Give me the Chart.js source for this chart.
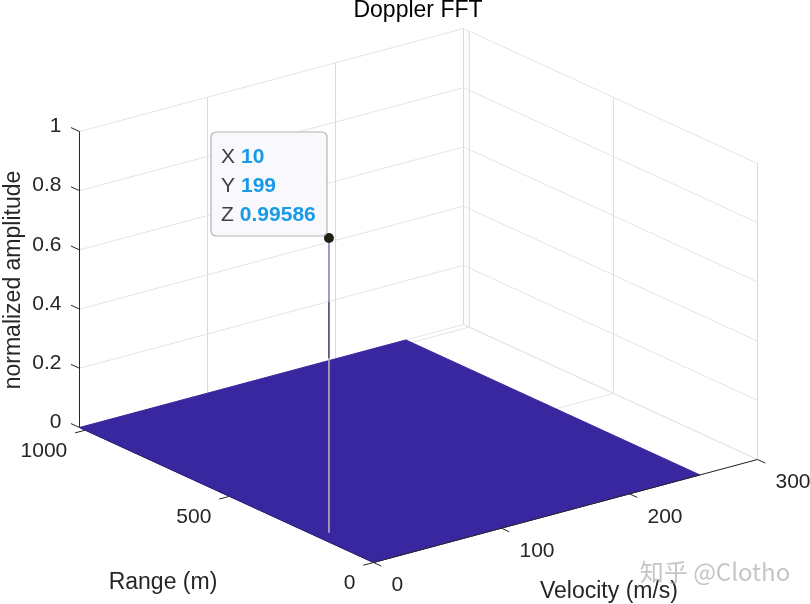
<!DOCTYPE html>
<html>
<head>
<meta charset="utf-8">
<title>Doppler FFT</title>
<script src="https://cdn.jsdelivr.net/npm/chart.js@4/dist/chart.umd.min.js"></script>
<style>
    html, body { margin: 0; padding: 0; background: #fff; }
    canvas { display: block; }
</style>
</head>
<body>
<canvas id="dopplerChart" width="810" height="604"></canvas>
<script>
// values
const velocityTicks = [0, 100, 200, 300];
const rangeTicks = [0, 500, 1000];
const ampTicks = [0, 0.2, 0.4, 0.6, 0.8, 1];
const velocityLimit = 300;
const rangeLimit = 1020;
const surfaceVelocity = 255;
const surfaceRange = 1020;

// the peak and the data tip
const peakVelocity = 10;
const peakRange = 199;
const peakAmp = 0.99586;
const spikeLevels = [0.99586, 0.78, 0.59, 0];
const spikeColors = ["#8a82bc", "#45446e", "#b4afbc"];
const tipNames = ["X", "Y", "Z"];
const tipValues = ["10", "199", "0.99586"];

const FONT = '"Liberation Sans", Arial, sans-serif';
const TEXT_COLOR = "#262626";
const GRID_COLOR = "#e4e4e4";
const GRID_COLOR_V = "#dadada";

// orthographic view of the box: velocity, range, amplitude -> page position
function project(v, r, z) {
    return {
        x: 373.5 + (v / velocityLimit) * 384 - (r / rangeLimit) * 294,
        y: 562.5 - (v / velocityLimit) * 103 - (r / rangeLimit) * 135 - z * 296
    };
}

const datasets = [];

function addLine(points, color, width, order) {
    datasets.push({
        data: points.map(p => project(p[0], p[1], p[2])),
        showLine: true,
        borderColor: color,
        borderWidth: width,
        pointRadius: 0,
        fill: false,
        order: order
    });
}

// wall and floor grid
ampTicks.forEach(z => {
    addLine([[0, rangeLimit, z], [velocityLimit, rangeLimit, z], [velocityLimit, 0, z]], GRID_COLOR, 1, 6);
});
velocityTicks.forEach(v => {
    addLine([[v, rangeLimit, 0], [v, rangeLimit, 1]], GRID_COLOR_V, 1, 6);
    addLine([[v, 0, 0], [v, rangeLimit, 0]], GRID_COLOR, 1, 6);
});
rangeTicks.forEach(r => {
    addLine([[velocityLimit, r, 0], [velocityLimit, r, 1]], GRID_COLOR_V, 1, 6);
    addLine([[0, r, 0], [velocityLimit, r, 0]], GRID_COLOR, 1, 6);
});

// floor of the surface
datasets.push({
    data: [[0, 0], [surfaceVelocity, 0], [surfaceVelocity, surfaceRange], [0, surfaceRange], [0, 0]]
        .map(p => project(p[0], p[1], 0)),
    showLine: true,
    borderColor: "#38279f",
    borderWidth: 1,
    backgroundColor: "#38279f",
    pointRadius: 0,
    fill: "shape",
    order: 5
});

// axes
addLine([[0, rangeLimit, 0], [0, rangeLimit, 1]], TEXT_COLOR, 1, 4);
addLine([[0, 0, 0], [velocityLimit, 0, 0]], TEXT_COLOR, 1, 4);
addLine([[0, 0, 0], [0, rangeLimit, 0]], "#2a2370", 1, 4);

// tick marks, drawn in data units so they follow the box
const tickV = 8;
const tickR = 27;
velocityTicks.forEach(v => addLine([[v, 0, 0], [v, -tickR, 0]], TEXT_COLOR, 1, 4));
rangeTicks.forEach(r => addLine([[0, r, 0], [-tickV, r, 0]], TEXT_COLOR, 1, 4));
ampTicks.forEach(z => addLine([[0, rangeLimit, z], [0, rangeLimit + tickR * 1.1, z]], TEXT_COLOR, 1, 4));

// the spike
datasets.push({
    data: spikeLevels.map(z => project(peakVelocity, peakRange, z)),
    showLine: true,
    borderWidth: 1.6,
    borderColor: spikeColors[0],
    segment: { borderColor: ctx => spikeColors[ctx.p0DataIndex] },
    pointRadius: 0,
    fill: false,
    order: 3
});

// data tip marker
datasets.push({
    data: [project(peakVelocity, peakRange, peakAmp)],
    showLine: false,
    pointRadius: 5,
    pointBackgroundColor: "#1f1f14",
    pointBorderWidth: 0,
    order: 1
});

function put(ctx, str, x, y, font, color, align) {
    ctx.font = font;
    ctx.fillStyle = color;
    ctx.textAlign = align;
    ctx.textBaseline = "middle";
    ctx.fillText(str, x, y);
}

const textPlugin = {
    id: "labels3d",
    afterDraw(chart) {
        const ctx = chart.ctx;
        const tickFont = "21px " + FONT;
        const labelFont = "23px " + FONT;
        ctx.save();

        put(ctx, "Doppler FFT", 418, 11, labelFont, "#000", "center");

        ampTicks.forEach(z => {
            const p = project(0, rangeLimit, z);
            put(ctx, String(z), p.x - 18, p.y - 5, tickFont, TEXT_COLOR, "right");
        });
        velocityTicks.forEach(v => {
            const p = project(v, 0, 0);
            put(ctx, String(v), p.x + 18, p.y + 23, tickFont, TEXT_COLOR, "left");
        });
        rangeTicks.forEach(r => {
            const p = project(0, r, 0);
            put(ctx, String(r), p.x - 18, p.y + 21, tickFont, TEXT_COLOR, "right");
        });

        put(ctx, "Velocity (m/s)", 609, 592, labelFont, TEXT_COLOR, "center");
        put(ctx, "Range (m)", 163, 583, labelFont, TEXT_COLOR, "center");
        ctx.save();
        ctx.translate(14, 280);
        ctx.rotate(-Math.PI / 2);
        put(ctx, "normalized amplitude", 0, 0, labelFont, TEXT_COLOR, "center");
        ctx.restore();

        // data tip box
        ctx.beginPath();
        ctx.roundRect(211, 132, 116, 104, 5);
        ctx.fillStyle = "#f8f8fd";
        ctx.fill();
        ctx.strokeStyle = "#b4b4b4";
        ctx.lineWidth = 1.2;
        ctx.stroke();
        tipNames.forEach((name, i) => {
            const y = 157 + i * 29;
            put(ctx, name, 221, y, "21px " + FONT, "#404040", "left");
            const w = ctx.measureText(name).width;
            put(ctx, tipValues[i], 221 + w + 6, y, "bold 21px " + FONT, "#189be4", "left");
        });

        // watermark
        put(ctx, "知乎 @Clotho", 715, 572, '24px "Noto Sans CJK SC", "Noto Sans", sans-serif', "rgba(150,150,150,0.55)", "center");
        ctx.restore();
    }
};

new Chart(document.getElementById("dopplerChart"), {
    type: "scatter",
    data: { datasets: datasets },
    plugins: [textPlugin],
    options: {
        responsive: false,
        animation: false,
        layout: { padding: 0, autoPadding: false },
        plugins: { legend: { display: false }, tooltip: { enabled: false }, title: { display: false } },
        events: [],
        scales: {
            x: { type: "linear", display: false, min: 0, max: 810 },
            y: { type: "linear", display: false, min: 0, max: 604, reverse: true }
        }
    }
});
</script>
</body>
</html>
